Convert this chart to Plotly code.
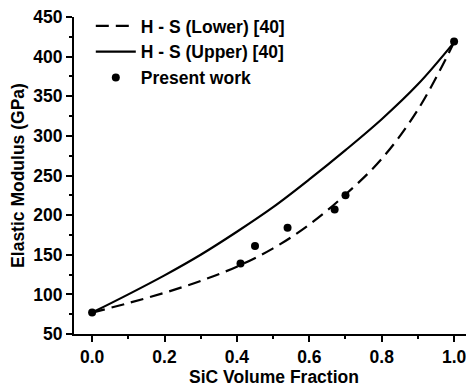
import plotly.graph_objects as go

# Hashin-Shtrikman bounds
hs_x = [0.0, 0.1, 0.2, 0.3, 0.4, 0.5, 0.6, 0.7, 0.8, 0.9, 1.0]
hs_lower = [77, 89, 102, 117, 135, 158, 188, 226, 271, 333, 418]
hs_upper = [77, 100, 124, 150, 179, 210, 245, 282, 321, 365, 418]

# Present work points
pw_x = [0.0, 0.41, 0.45, 0.54, 0.67, 0.70, 1.0]
pw_y = [77, 139, 161, 184, 207, 225, 419]

FONT = "Liberation Sans, Arial, sans-serif"
FS = 17.5

fig = go.Figure()
fig.add_trace(go.Scatter(x=hs_x, y=hs_lower, mode="lines", name="H - S (Lower) [40]",
                         line=dict(color="black", width=2.2, dash="13px,7px", shape="spline")))
fig.add_trace(go.Scatter(x=hs_x, y=hs_upper, mode="lines", name="H - S (Upper) [40]",
                         line=dict(color="black", width=2.2, shape="spline")))
fig.add_trace(go.Scatter(x=pw_x, y=pw_y, mode="markers", name="Present work",
                         marker=dict(color="black", size=8)))

axis_common = dict(
    showline=True, linecolor="black", linewidth=2,
    ticks="outside", ticklen=6, tickwidth=2, tickcolor="black",
    showgrid=False, zeroline=False, mirror=False, automargin=False,
    ticklabeloverflow="allow",
    tickfont=dict(family=FONT, size=FS, color="black", weight="bold"),
)

# the page body adds an 8px offset, so the figure is sized 8px smaller
fig.update_layout(
    width=466, height=379,
    margin=dict(l=66, r=0, t=5, b=53),
    plot_bgcolor="white", paper_bgcolor="white",
    xaxis=dict(range=[-0.05, 1.055], tick0=0, dtick=0.2, tickformat=".1f",
               minor=dict(ticks="outside", ticklen=3, tickwidth=2, tickcolor="black", dtick=0.1),
               title=dict(text="SiC Volume Fraction", standoff=8,
                          font=dict(family=FONT, size=FS, color="black", weight="bold")),
               **axis_common),
    yaxis=dict(range=[50, 450], tick0=50, dtick=50,
               minor=dict(ticks="outside", ticklen=3, tickwidth=2, tickcolor="black", dtick=25),
               title=dict(text="Elastic Modulus (GPa)", standoff=16,
                          font=dict(family=FONT, size=FS, color="black", weight="bold")),
               **axis_common),
    legend=dict(x=0.042, y=1.03, xanchor="left", yanchor="top",
                bgcolor="rgba(0,0,0,0)", tracegroupgap=0, itemwidth=40,
                font=dict(family=FONT, size=FS, color="black", weight="bold")),
    showlegend=True,
)

fig.write_html("out.html")
